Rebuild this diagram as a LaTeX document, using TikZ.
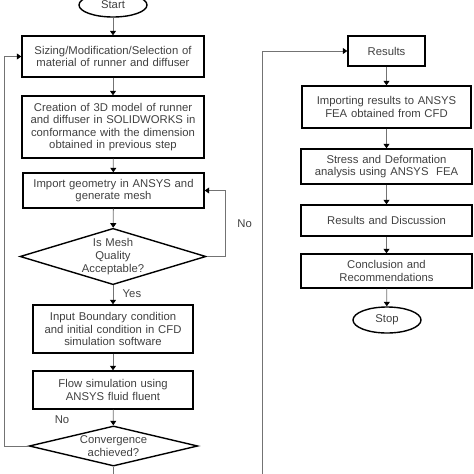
\documentclass[tikz,border=0pt]{standalone}
\usepackage{fontspec}
\setmainfont{Liberation Sans}
\usetikzlibrary{positioning}
\usetikzlibrary{arrows.meta}
\usetikzlibrary{shapes.geometric}
\tikzset{my_chart/.style={x=1pt,y=-1pt,font=\fontsize{11.3}{12.6}\selectfont,text=black!75}}
\tikzset{my_box/.style={rectangle, draw=black, line width=1.4pt, align=center, inner sep=2pt}}
\tikzset{my_term/.style={ellipse, draw=black, line width=1.4pt, inner sep=0pt}}
\tikzset{my_test/.style={diamond, draw=black, line width=1.4pt, align=center, inner sep=0pt}}
\tikzset{my_link/.style={draw=black!55, line width=0.8pt, -{Triangle[width=6pt,length=4.5pt,color=black]}}}

\begin{document}
\begin{tikzpicture}[my_chart]
    \useasboundingbox (0,0) rectangle (474,474);
    \clip (0,0) rectangle (474,474);
    %\draw[help lines,step=20] (0,0) grid (474,474);
    % left column
    \node[my_term, minimum width=68pt, minimum height=24pt] (start) at (113,5) {Start};
    \node[my_box, minimum width=182pt, minimum height=41pt, text width=176pt] (sizing) at (113,56.5)
        {Sizing/Modification/Selection of\\material of runner and diffuser};
    \node[my_box, minimum width=182pt, minimum height=62pt, text width=176pt] (model) at (113,127)
        {Creation of 3D model of runner\\and diffuser in SOLIDWORKS in\\conformance with the dimension\\obtained in previous step};
    \node[my_box, minimum width=181pt, minimum height=35pt, text width=175pt] (mesh) at (113.5,190.5)
        {Import geometry in ANSYS and\\generate mesh};
    \node[my_test, shape aspect=3.3, text width=68pt] (quality) at (113,256.5)
        {Is Mesh\\Quality\\Acceptable?};
    \node[my_box, minimum width=160pt, minimum height=48pt, text width=154pt] (bc) at (113,329)
        {Input Boundary condition\\and initial condition in CFD\\simulation software};
    \node[my_box, minimum width=160pt, minimum height=38pt, text width=154pt] (flow) at (113,390)
        {Flow simulation using\\ANSYS fluid fluent};
    \node[my_test, shape aspect=4.2, text width=82pt] (conv) at (113.5,446)
        {Convergence\\achieved?};
    % right column
    \node[my_box, minimum width=77pt, minimum height=30pt] (results) at (386.5,51) {Results};
    \node[my_box, minimum width=169pt, minimum height=42pt, text width=163pt] (import) at (386.5,107)
        {Importing results to ANSYS\\FEA obtained from CFD};
    \node[my_box, minimum width=171pt, minimum height=35pt, text width=165pt] (stress) at (386.5,166.5)
        {Stress and Deformation\\analysis using ANSYS\ \ FEA};
    \node[my_box, minimum width=171pt, minimum height=31pt, text width=165pt] (discuss) at (386.5,220.5)
        {Results and Discussion};
    \node[my_box, minimum width=171pt, minimum height=34pt, text width=165pt] (concl) at (386.5,271)
        {Conclusion and\\Recommendations};
    \node[my_term, minimum width=68pt, minimum height=26pt] (stop) at (387,320) {Stop};
    \coordinate (back) at (4,446);
    \coordinate (below) at (262,490);

    \path[my_link]
        (start) edge (sizing)
        (sizing) edge (model)
        (model) edge (mesh)
        (mesh) edge (quality)
        (quality) edge node [pos=0.45, right=6pt] {Yes} (bc)
        (bc) edge (flow)
        (flow) edge (conv)
        (results) edge (import)
        (import) edge (stress)
        (stress) edge (discuss)
        (discuss) edge (concl)
        (concl) edge (stop)
    ;
    \draw[my_link] (quality.east) -- ++(19,0) |- node [pos=0.25, right=8pt] {No} (mesh.east);
    \draw[my_link] (conv.west) -- (back) |- (sizing.west);
    \draw[my_link] (conv.south) |- (below) |- (results.west);
    \node (no) at (62,420) {No};
\end{tikzpicture}
\end{document}
